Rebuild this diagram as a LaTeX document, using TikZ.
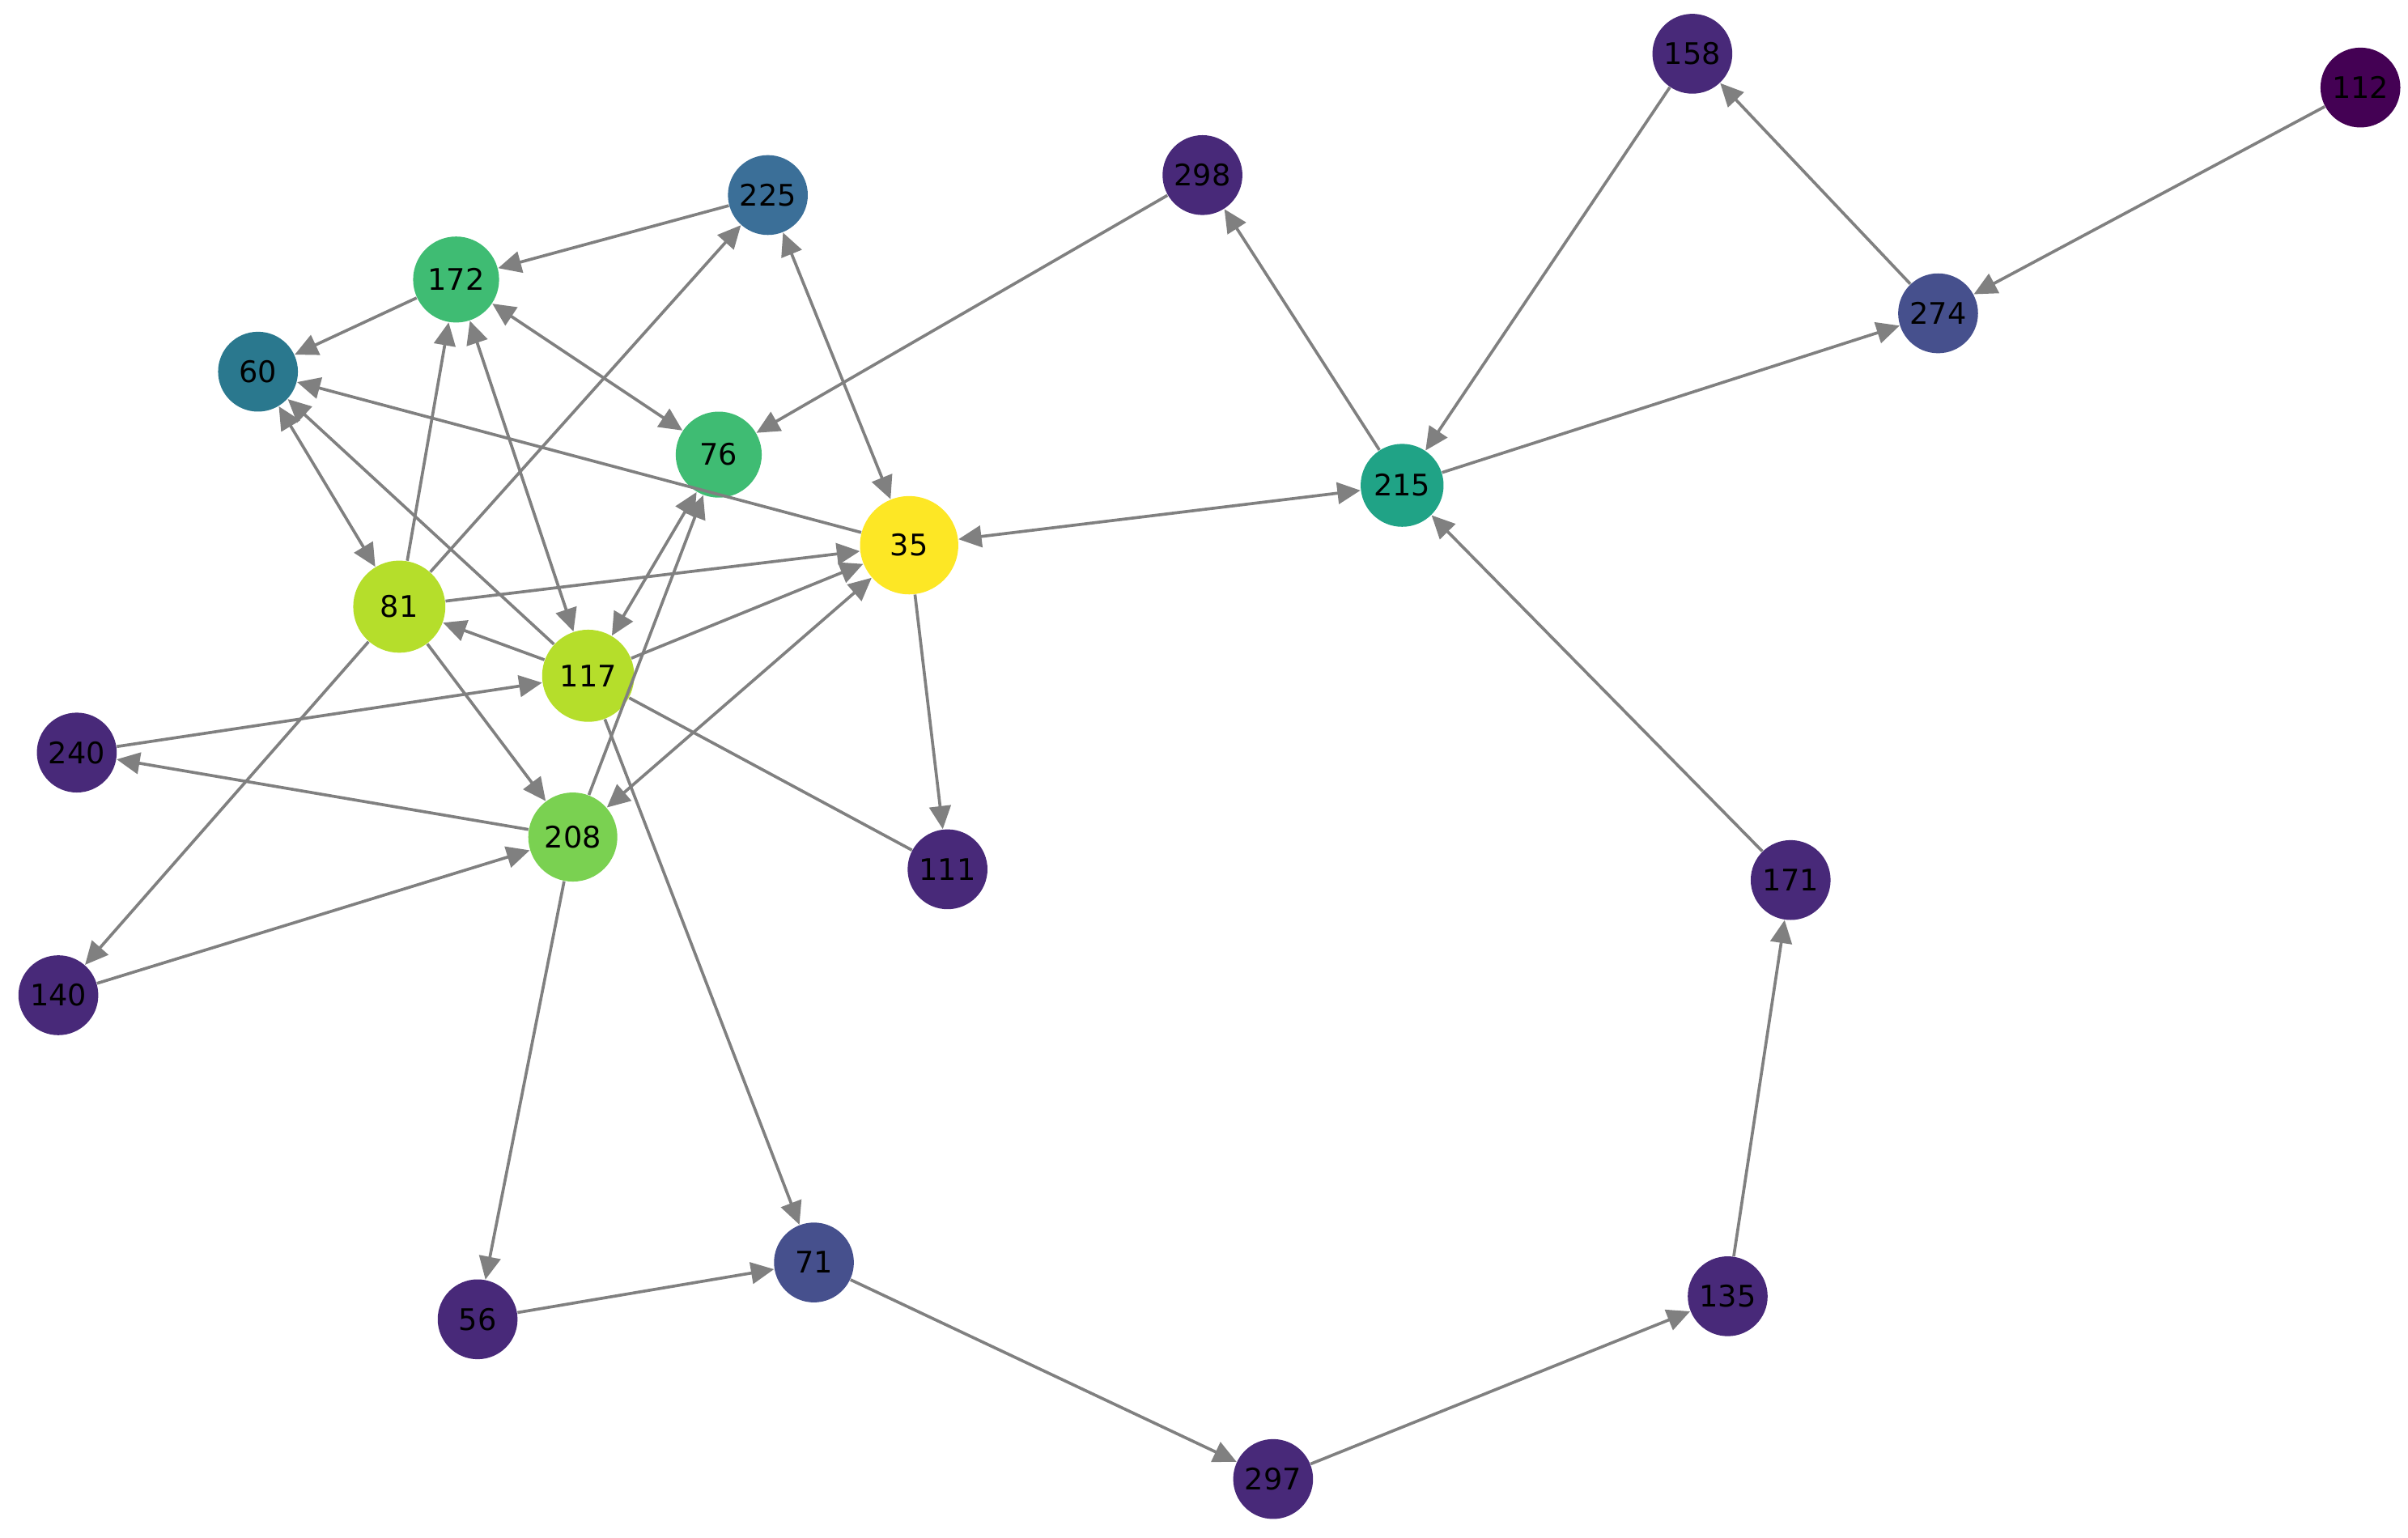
\documentclass[tikz,border=0pt]{standalone}
\usepackage{fontspec}
\setsansfont{DejaVu Sans}
\usetikzlibrary{arrows.meta, positioning}

\definecolor{vYel}{HTML}{FDE725}
\definecolor{vLime}{HTML}{B5DE2B}
\definecolor{vGreen}{HTML}{7AD151}
\definecolor{vJade}{HTML}{3FBC73}
\definecolor{vTeal}{HTML}{20A386}
\definecolor{vCyan}{HTML}{2A788E}
\definecolor{vBlue}{HTML}{3B6F98}
\definecolor{vNavy}{HTML}{46508D}
\definecolor{vPurp}{HTML}{482979}
\definecolor{vDark}{HTML}{440154}

\begin{document}
\begin{tikzpicture}[
    x=0.02cm, y=-0.02cm,
    every node/.style={font=\sffamily\fontsize{11}{11}\selectfont},
    vtx/.style={circle, inner sep=0pt, minimum size=1.04cm},
    big/.style={vtx, minimum size=#1cm},
    arrow/.style={-{Triangle[length=3mm, width=2.8mm]}, line width=1.1pt, gray},
    both/.style={{Triangle[length=3mm, width=2.8mm]}-{Triangle[length=3mm, width=2.8mm]}, line width=1.1pt, gray},
    plain/.style={line width=1.1pt, gray}
]
\useasboundingbox (0,0) rectangle (1568,1001);

% === NODES ===
\node[big=1.28, fill=vYel]   (n35)  at (592,355) {35};
\node[big=1.2, fill=vLime]   (n81)  at (260,395) {81};
\node[big=1.2, fill=vLime]   (n117) at (383,440) {117};
\node[big=1.16, fill=vGreen] (n208) at (373,545) {208};
\node[big=1.12, fill=vJade]  (n172) at (297,182) {172};
\node[big=1.12, fill=vJade]  (n76)  at (468,296) {76};
\node[big=1.08, fill=vTeal]  (n215) at (913,316) {215};
\node[vtx, fill=vCyan]       (n60)  at (168,242) {60};
\node[vtx, fill=vBlue]       (n225) at (500,127) {225};
\node[vtx, fill=vNavy]       (n274) at (1262,204) {274};
\node[vtx, fill=vNavy]       (n71)  at (530,822) {71};
\node[vtx, fill=vPurp]       (n158) at (1102,35) {158};
\node[vtx, fill=vDark]       (n112) at (1537,57) {112};
\node[vtx, fill=vPurp]       (n298) at (783,114) {298};
\node[vtx, fill=vPurp]       (n240) at (50,490) {240};
\node[vtx, fill=vPurp]       (n111) at (617,566) {111};
\node[vtx, fill=vPurp]       (n171) at (1166,573) {171};
\node[vtx, fill=vPurp]       (n140) at (38,648) {140};
\node[vtx, fill=vPurp]       (n135) at (1125,844) {135};
\node[vtx, fill=vPurp]       (n56)  at (311,859) {56};
\node[vtx, fill=vPurp]       (n297) at (829,963) {297};

% === EDGES ===
\draw[arrow] (n225) -- (n172);
\draw[arrow] (n172) -- (n60);
\draw[both]  (n172) -- (n76);
\draw[both]  (n225) -- (n35);
\draw[arrow] (n298) -- (n76);
\draw[arrow] (n81) -- (n225);
\draw[arrow] (n81) -- (n172);
\draw[both]  (n172) -- (n117);
\draw[both]  (n60) -- (n81);
\draw[arrow] (n117) -- (n60);
\draw[arrow] (n35) -- (n60);
\draw[both]  (n76) -- (n117);
\draw[arrow] (n208) -- (n76);
\draw[arrow] (n81) -- (n35);
\draw[arrow] (n117) -- (n35);
\draw[both]  (n35) -- (n208);
\draw[arrow] (n117) -- (n81);
\draw[arrow] (n240) -- (n117);
\draw[arrow] (n81) -- (n208);
\draw[plain] (n117) -- (n111);
\draw[arrow] (n35) -- (n111);
\draw[arrow] (n81) -- (n140);
\draw[arrow] (n208) -- (n240);
\draw[arrow] (n140) -- (n208);
\draw[arrow] (n208) -- (n56);
\draw[arrow] (n117) -- (n71);
\draw[arrow] (n56) -- (n71);
\draw[arrow] (n71) -- (n297);
\draw[arrow] (n297) -- (n135);
\draw[arrow] (n135) -- (n171);
\draw[arrow] (n171) -- (n215);
\draw[arrow] (n215) -- (n298);
\draw[arrow] (n158) -- (n215);
\draw[arrow] (n274) -- (n158);
\draw[arrow] (n112) -- (n274);
\draw[arrow] (n215) -- (n274);
\draw[both]  (n35) -- (n215);

\end{tikzpicture}
\end{document}
